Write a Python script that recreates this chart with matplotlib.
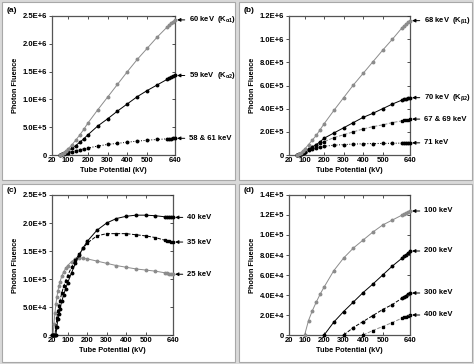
import numpy as np
import matplotlib
matplotlib.use('Agg')
import matplotlib.pyplot as plt
from matplotlib.patches import Rectangle

plt.rcParams['font.family'] = ['Liberation Sans', 'DejaVu Sans']
plt.rcParams['font.weight'] = 'bold'
plt.rcParams['mathtext.fontset'] = 'custom'
plt.rcParams['mathtext.rm'] = 'Liberation Sans:bold'
plt.rcParams['mathtext.it'] = 'Liberation Sans:bold'
plt.rcParams['mathtext.bf'] = 'Liberation Sans:bold'

# tube potentials (kV)
x_ab = [60, 70, 80, 90, 100, 120, 140, 160, 180, 200, 250, 300, 350, 400, 450, 500, 550,
        600, 610, 620, 630, 640]
x_c = [20, 25, 30, 35, 40, 45, 50, 55, 60, 70, 80, 90, 100, 120, 140, 160, 180, 200, 250,
       300, 350, 400, 450, 500, 550, 600, 610, 620, 630, 640]
x_d100 = [100, 120, 140, 160, 180, 200, 250, 300, 350, 400, 450, 500, 550, 600, 610, 620, 630, 640]
x_d200 = [200, 250, 300, 350, 400, 450, 500, 550, 600, 610, 620, 630, 640]
x_d300 = [300, 350, 400, 450, 500, 550, 600, 610, 620, 630, 640]
x_d400 = [400, 450, 500, 550, 600, 610, 620, 630, 640]

# (a) tungsten K-alpha lines, x1e6
a60 = [0, 0.01, 0.04, 0.07, 0.11, 0.18, 0.27, 0.36, 0.46, 0.57, 0.81, 1.04, 1.27, 1.50, 1.72,
       1.92, 2.12, 2.30, 2.34, 2.37, 2.40, 2.43]
a59 = [0, 0.01, 0.03, 0.05, 0.07, 0.12, 0.17, 0.23, 0.29, 0.36, 0.52, 0.65, 0.79, 0.92, 1.05,
       1.16, 1.26, 1.36, 1.38, 1.40, 1.42, 1.43]
a58 = [0, 0.01, 0.02, 0.03, 0.04, 0.06, 0.08, 0.095, 0.11, 0.125, 0.16, 0.19, 0.21, 0.23, 0.25,
       0.265, 0.28, 0.29, 0.293, 0.296, 0.298, 0.30]

# (b) K-beta lines, x1e6
b68 = [0, 0.01, 0.02, 0.035, 0.05, 0.09, 0.13, 0.17, 0.22, 0.27, 0.385, 0.495, 0.605, 0.705,
       0.805, 0.905, 1.0, 1.10, 1.115, 1.13, 1.145, 1.16]
b70 = [0, 0.005, 0.01, 0.02, 0.03, 0.05, 0.07, 0.09, 0.115, 0.145, 0.19, 0.235, 0.28, 0.325,
       0.36, 0.40, 0.44, 0.475, 0.48, 0.485, 0.49, 0.495]
b67 = [0, 0.005, 0.01, 0.02, 0.03, 0.05, 0.065, 0.085, 0.10, 0.115, 0.15, 0.175, 0.20, 0.225,
       0.245, 0.26, 0.28, 0.295, 0.299, 0.303, 0.306, 0.31]
b71 = [0, 0.003, 0.008, 0.015, 0.025, 0.04, 0.05, 0.06, 0.068, 0.075, 0.085, 0.09, 0.094, 0.097,
       0.099, 0.10, 0.101, 0.103, 0.104, 0.104, 0.105, 0.105]

# (c) low energies, x1e5
c25 = [0, 0, 0.2, 0.4, 0.55, 0.68, 0.78, 0.87, 0.94, 1.05, 1.13, 1.19, 1.24, 1.31, 1.36, 1.38,
       1.37, 1.36, 1.32, 1.28, 1.24, 1.21, 1.18, 1.16, 1.14, 1.11, 1.10, 1.095, 1.09, 1.085]
c35 = [0, 0, 0, 0, 0.15, 0.30, 0.42, 0.52, 0.60, 0.75, 0.87, 0.97, 1.06, 1.21, 1.34, 1.45,
       1.55, 1.64, 1.77, 1.81, 1.81, 1.81, 1.79, 1.77, 1.74, 1.69, 1.68, 1.67, 1.665, 1.66]
c40 = [0, 0, 0, 0, 0, 0.15, 0.28, 0.38, 0.46, 0.60, 0.72, 0.83, 0.93, 1.11, 1.28, 1.43, 1.56,
       1.67, 1.87, 2.00, 2.08, 2.12, 2.14, 2.14, 2.13, 2.11, 2.105, 2.10, 2.10, 2.10]

# (d) high energies, x1e4
d100 = [0, 1.45, 2.45, 3.3, 4.1, 4.8, 6.45, 7.7, 8.7, 9.5, 10.3, 11.0, 11.5, 12.0, 12.1, 12.2,
        12.3, 12.4]
d200 = [0, 1.3, 2.35, 3.3, 4.25, 5.1, 6.0, 6.9, 7.7, 7.9, 8.05, 8.2, 8.4]
d300 = [0, 0.75, 1.35, 1.95, 2.55, 3.05, 3.7, 3.85, 3.95, 4.1, 4.2]
d400 = [0, 0.45, 0.85, 1.25, 1.7, 1.8, 1.85, 1.95, 2.0]

xticks = [20, 100, 200, 300, 400, 500, 640]
yticks_a = [0, 5e5, 1e6, 1.5e6, 2e6, 2.5e6]
ylabels_a = ['0', '5.0E+5', '1.0E+6', '1.5E+6', '2.0E+6', '2.5E+6']
yticks_b = [0, 2e5, 4e5, 6e5, 8e5, 1e6, 1.2e6]
ylabels_b = ['0', '2.0E+5', '4.0E+5', '6.0E+5', '8.0E+5', '1.0E+6', '1.2E+6']
yticks_c = [0, 5e4, 1e5, 1.5e5, 2e5, 2.5e5]
ylabels_c = ['0', '5.0E+4', '1.0E+5', '1.5E+5', '2.0E+5', '2.5E+5']
yticks_d = [0, 2e4, 4e4, 6e4, 8e4, 1e5, 1.2e5, 1.4e5]
ylabels_d = ['0', '2.0E+4', '4.0E+4', '6.0E+4', '8.0E+4', '1.0E+5', '1.2E+5', '1.4E+5']

GRAY = '#8c8c8c'
W, H = 474, 364

fig = plt.figure(figsize=(W / 100, H / 100), dpi=100)
fig.patch.set_facecolor('#d9d9d9')

# white panel boxes (pixel coords from top-left)
for (l, t, w, h) in [(2, 2, 233, 178), (239, 2, 233, 178), (2, 184, 233, 178), (239, 184, 233, 178)]:
    fig.add_artist(Rectangle((l / W, 1 - (t + h) / H), w / W, h / H, transform=fig.transFigure,
                             facecolor='white', edgecolor='#a8a8a8', lw=0.8, zorder=0))


def make_panel(l, t, r, b):
    ax = fig.add_axes([l / W, 1 - b / H, (r - l) / W, (b - t) / H])
    for s in ax.spines.values():
        s.set_color('#555555')
        s.set_linewidth(0.9)
    ax.tick_params(axis='both', labelsize=5.5, length=2, width=0.6, pad=1.5, color='#333333')
    ax.tick_params(axis='x', direction='in', top=True)
    ax.tick_params(axis='y', direction='out')
    ax.set_xlim(20, 640)
    ax.set_xticks(xticks)
    ax.set_xlabel('Tube Potential (kV)', fontsize=5.3, fontweight='bold', labelpad=2)
    ax.set_ylabel('Photon Fluence', fontsize=5.3, fontweight='bold', labelpad=3)
    return ax


def set_y(ax, ticks, labels):
    ax.set_ylim(ticks[0], ticks[-1])
    ax.set_yticks(ticks)
    ax.set_yticklabels(labels)
    ax2 = ax.twinx()
    ax2.set_ylim(ticks[0], ticks[-1])
    ax2.set_yticks(ticks)
    ax2.tick_params(axis='y', direction='in', length=2, width=0.6, labelright=False, color='#333333')
    for s in ax2.spines.values():
        s.set_visible(False)


def series(ax, x, y, color, ls='-', marker='o', mfc=None, label=None):
    ax.plot(x, y, color=color, ls=ls, lw=0.7, marker=marker, ms=1.8,
            mfc=mfc or color, mec=mfc or color, clip_on=False, zorder=3)
    if label:
        ax.annotate(label, xy=(x[-1], y[-1]), xytext=(10, 0), textcoords='offset points',
                    fontsize=5.5, fontweight='bold', va='center', ha='left',
                    annotation_clip=False,
                    arrowprops=dict(arrowstyle='-|>', color='black', lw=0.7,
                                    mutation_scale=5, shrinkA=1, shrinkB=1.5))


# (a)
ax = make_panel(52, 16, 175, 155)
set_y(ax, yticks_a, ylabels_a)
series(ax, x_ab, np.array(a58) * 1e6, 'black', ls=':', label='58 & 61 keV')
series(ax, x_ab, np.array(a59) * 1e6, 'black', label='59 keV  (K$_{\\alpha2}$)')
series(ax, x_ab, np.array(a60) * 1e6, GRAY, label='60 keV  (K$_{\\alpha1}$)')

# (b)
ax = make_panel(289, 16, 410, 155)
set_y(ax, yticks_b, ylabels_b)
series(ax, x_ab, np.array(b71) * 1e6, 'black', ls=':', label='71 keV')
series(ax, x_ab, np.array(b67) * 1e6, GRAY, ls='--', marker='s', mfc='black', label='67 & 69 keV')
series(ax, x_ab, np.array(b70) * 1e6, 'black', label='70 keV  (K$_{\\beta2}$)')
series(ax, x_ab, np.array(b68) * 1e6, GRAY, label='68 keV  (K$_{\\beta1}$)')

# (c)
ax = make_panel(52, 195, 173, 335)
set_y(ax, yticks_c, ylabels_c)
series(ax, x_c, np.array(c25) * 1e5, GRAY, label='25 keV')
series(ax, x_c, np.array(c35) * 1e5, 'black', ls='--', marker='s', label='35 keV')
series(ax, x_c, np.array(c40) * 1e5, 'black', label='40 keV')

# (d)
ax = make_panel(289, 195, 410, 335)
set_y(ax, yticks_d, ylabels_d)
series(ax, x_d400, np.array(d400) * 1e4, GRAY, ls='--', marker='s', mfc='black', label='400 keV')
series(ax, x_d300, np.array(d300) * 1e4, 'black', ls='--', label='300 keV')
series(ax, x_d200, np.array(d200) * 1e4, 'black', label='200 keV')
series(ax, x_d100, np.array(d100) * 1e4, GRAY, label='100 keV')

for lab, px, py in [('(a)', 7, 11), ('(b)', 244, 11), ('(c)', 7, 190), ('(d)', 244, 190)]:
    fig.text(px / W, 1 - py / H, lab, fontsize=6, fontweight='bold', va='center', ha='left')

fig.savefig('out.png', dpi=100, facecolor=fig.get_facecolor())
